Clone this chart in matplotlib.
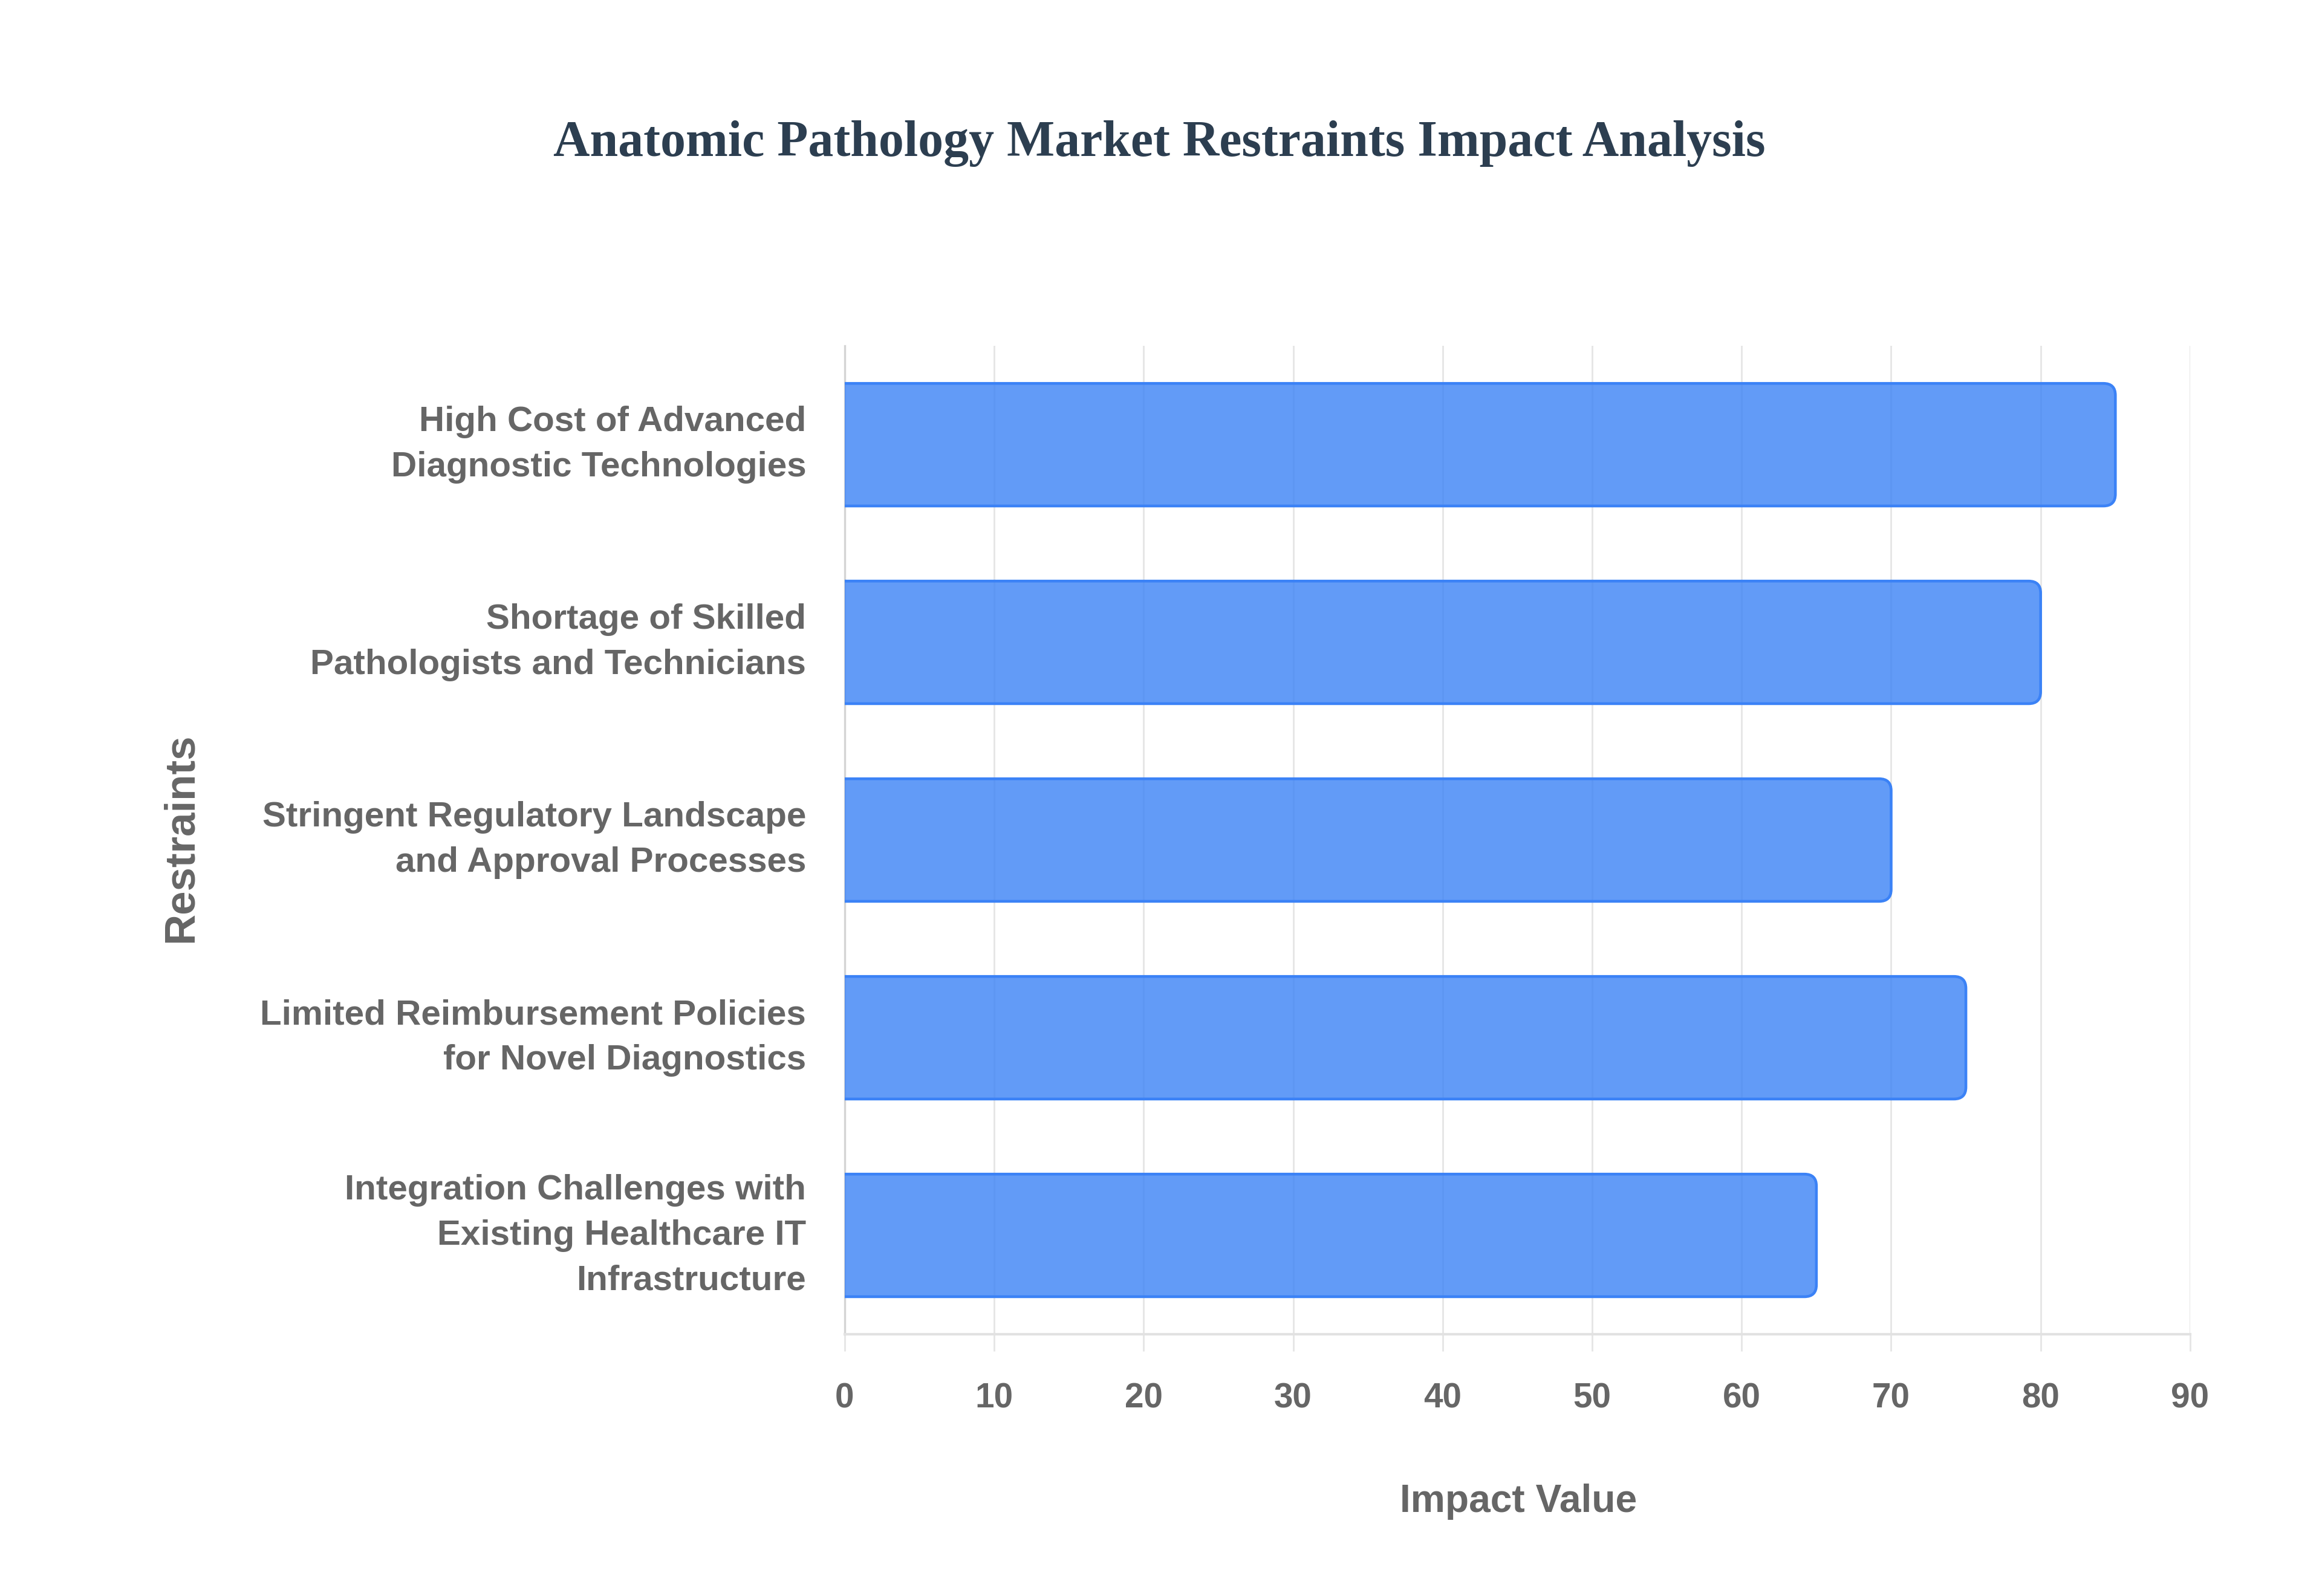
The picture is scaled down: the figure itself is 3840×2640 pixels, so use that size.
import matplotlib
matplotlib.use('Agg')
import matplotlib.pyplot as plt
from matplotlib.patches import FancyBboxPatch

# chart data
restraints = [
    'High Cost of Advanced\nDiagnostic Technologies',
    'Shortage of Skilled\nPathologists and Technicians',
    'Stringent Regulatory Landscape\nand Approval Processes',
    'Limited Reimbursement Policies\nfor Novel Diagnostics',
    'Integration Challenges with\nExisting Healthcare IT\nInfrastructure',
]
impact = [85, 80, 70, 75, 65]
x_ticks = [0, 10, 20, 30, 40, 50, 60, 70, 80, 90]

title_text = 'Anatomic Pathology Market Restraints Impact Analysis'
x_title = 'Impact Value'
y_title = 'Restraints'

# styles
bar_fill = (59/255, 130/255, 246/255, 0.8)
bar_edge = '#3b82f6'
grid_col = '#e6e6e6'
text_col = '#666666'
sans = ['Liberation Sans', 'DejaVu Sans']

fig = plt.figure(figsize=(12.8, 8.8), dpi=300)
ax = fig.add_axes([0.3638, 0.1640, 0.5794, 0.6193])

ypos = list(range(len(restraints)))
bar_h = 0.62
# bars drawn invisible, used for their geometry
bars = ax.barh(ypos, impact, height=bar_h, color='none', edgecolor='none')

# rounded right ends; box starts left of 0 so its left side is clipped away
for rect in bars:
    x0 = -2
    p = FancyBboxPatch((x0, rect.get_y()), rect.get_width() - x0, rect.get_height(),
                       boxstyle='round,pad=0,rounding_size=0.8',
                       mutation_aspect=0.075,
                       facecolor=bar_fill, edgecolor=bar_edge,
                       linewidth=1.1, zorder=3)
    ax.add_patch(p)
    p.set_clip_box(ax.bbox)

ax.set_xlim(0, 90)
ax.set_ylim(len(restraints) - 0.5, -0.5)
ax.set_xticks(x_ticks)
ax.set_yticks(ypos)
ax.set_yticklabels(restraints, linespacing=1.5, va='center')

for lab in ax.get_yticklabels():
    lab.set_family(sans)
    lab.set_fontweight('bold')
    lab.set_color(text_col)
    lab.set_fontsize(14)
for lab in ax.get_xticklabels():
    lab.set_family(sans)
    lab.set_fontweight('bold')
    lab.set_color(text_col)
    lab.set_fontsize(13.6)

ax.tick_params(axis='y', length=0, pad=15.3)
ax.tick_params(axis='x', length=6.7, width=0.7, color=grid_col, pad=12.4)

ax.grid(axis='x', color=grid_col, linewidth=0.7, zorder=0)
ax.set_axisbelow(True)
for s in ['top', 'right']:
    ax.spines[s].set_visible(False)
ax.spines['left'].set_color('#d4d4d4')
ax.spines['left'].set_linewidth(0.8)
ax.spines['bottom'].set_color('#e2e2e2')
ax.spines['bottom'].set_linewidth(1.0)

fig.text(0.6539, 0.059, x_title, ha='center', va='center',
         family=sans, fontweight='bold', fontsize=15.4, color=text_col)
fig.text(0.078, 0.475, y_title, ha='center', va='center', rotation=90,
         family=sans, fontweight='bold', fontsize=17, color=text_col)
fig.text(0.4992, 0.910, title_text, ha='center', va='center',
         family=['Liberation Serif', 'DejaVu Serif'], fontweight='bold',
         fontsize=20.1, color='#2c3e50')

fig.savefig('out.png', dpi=300, facecolor='white')
